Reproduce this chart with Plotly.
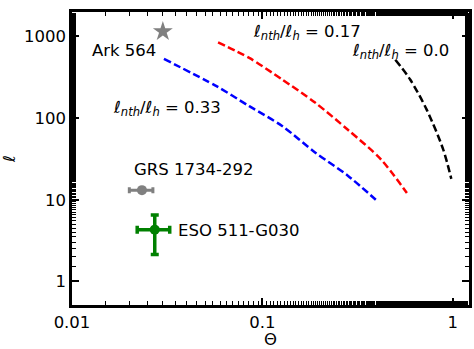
import plotly.graph_objects as go

# ---- data ----
theta_033 = [0.0304, 0.0574, 0.0853, 0.127, 0.189, 0.281, 0.394]
ell_033 = [531, 246, 140, 80, 38, 19.7, 10]

theta_017 = [0.0585, 0.0853, 0.127, 0.189, 0.281, 0.418, 0.574]
ell_017 = [845, 546, 297, 155, 72, 31.5, 12.1]

theta_000 = [0.499, 0.597, 0.728, 0.889, 0.982]
ell_000 = [520, 297, 128, 41.7, 18]

ark_theta = [0.030]
ark_ell = [1150]

grs_theta = [0.0233]
grs_ell = [13.1]
grs_theta_err_plus = [0.0033]
grs_theta_err_minus = [0.0033]

eso_theta = [0.0272]
eso_ell = [4.3]
eso_theta_err_plus = [0.0054]
eso_theta_err_minus = [0.0052]
eso_ell_err_plus = [2.2]
eso_ell_err_minus = [2.17]

x_tickvals = [0.01, 0.1, 1]
x_ticktext = ["0.01", "0.1", "1"]
y_tickvals = [1, 10, 100, 1000]
y_ticktext = ["1", "10", "100", "1000"]

FONT = "DejaVu Sans"
FS = 16.5

fig = go.Figure()

dash = "7.4px,3.4px"
for xs, ys, col in [(theta_033, ell_033, "#0000ff"),
                    (theta_017, ell_017, "#ff0000"),
                    (theta_000, ell_000, "#000000")]:
    fig.add_trace(go.Scatter(x=xs, y=ys, mode="lines",
                             line=dict(color=col, width=2.5, dash=dash,
                                       shape="spline", smoothing=0.8),
                             showlegend=False))

fig.add_trace(go.Scatter(x=ark_theta, y=ark_ell, mode="markers",
                         marker=dict(symbol="star", size=15, color="#808080"),
                         showlegend=False))

fig.add_trace(go.Scatter(x=grs_theta, y=grs_ell, mode="markers",
                         marker=dict(symbol="circle", size=10, color="#808080"),
                         error_x=dict(type="data", symmetric=False,
                                      array=grs_theta_err_plus,
                                      arrayminus=grs_theta_err_minus,
                                      color="#808080", thickness=3, width=3),
                         showlegend=False))

fig.add_trace(go.Scatter(x=eso_theta, y=eso_ell, mode="markers",
                         marker=dict(symbol="circle", size=10, color="#008000"),
                         error_x=dict(type="data", symmetric=False,
                                      array=eso_theta_err_plus,
                                      arrayminus=eso_theta_err_minus,
                                      color="#008000", thickness=3.5, width=4),
                         error_y=dict(type="data", symmetric=False,
                                      array=eso_ell_err_plus,
                                      arrayminus=eso_ell_err_minus,
                                      color="#008000", thickness=3.5, width=4),
                         showlegend=False))

ratio = "<i>ℓ</i><sub><i>nth</i></sub>/<i>ℓ</i><sub><i>h</i></sub> = "
annots = [
    dict(x=-1.55, y=2.826, text="Ark 564", xanchor="right"),
    dict(x=-1.793, y=2.12, text=ratio + "0.33", xanchor="left"),
    dict(x=-1.058, y=3.045, text=ratio + "0.17", xanchor="left"),
    dict(x=-0.541, y=2.813, text=ratio + "0.0", xanchor="left"),
    dict(x=-1.684, y=1.376, text="GRS 1734-292", xanchor="left"),
    dict(x=-1.452, y=0.621, text="ESO 511-G030", xanchor="left"),
]
for a in annots:
    fig.add_annotation(x=a["x"], y=a["y"], xref="x", yref="y", text=a["text"],
                       xanchor=a["xanchor"], yanchor="middle", showarrow=False,
                       font=dict(family=FONT, size=FS, color="black"))

axis_common = dict(
    type="log", showgrid=False, zeroline=False,
    showline=True, linecolor="black", linewidth=2.5, mirror="allticks",
    ticks="inside", ticklen=7, tickwidth=1.5, tickcolor="black",
    tickfont=dict(family=FONT, size=FS, color="black"),
    minor=dict(ticks="inside", ticklen=4, tickwidth=1, tickcolor="black", showgrid=False),
)

fig.update_xaxes(**axis_common, range=[-2, 0.085],
                 tickmode="array", tickvals=x_tickvals, ticktext=x_ticktext,
                 title=dict(text="Θ", font=dict(family=FONT, size=FS, color="black"), standoff=4))
fig.update_yaxes(**axis_common, range=[-0.29, 3.30],
                 tickmode="array", tickvals=y_tickvals, ticktext=y_ticktext,
                 title=dict(text="<i>ℓ</i>", font=dict(family=FONT, size=FS, color="black"), standoff=10))

fig.update_layout(width=474, height=349,
                  margin=dict(l=70, r=2, t=12, b=42),
                  plot_bgcolor="white", paper_bgcolor="white")

fig.write_html("out.html")
